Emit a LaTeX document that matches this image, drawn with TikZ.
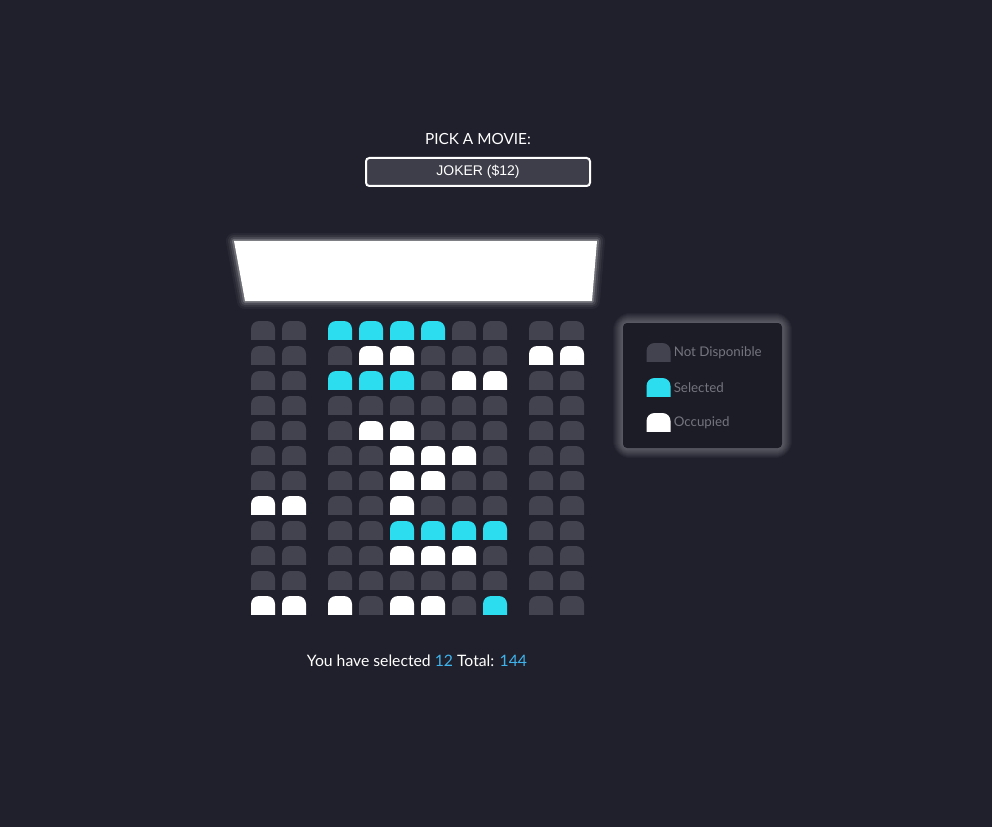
\documentclass[tikz,border=0pt]{standalone}
\usepackage{fontspec}
\setmainfont{Lato}
\newfontfamily\arialf{Liberation Sans}
\definecolor{bg}{HTML}{20202C}
\definecolor{seatN}{HTML}{434350}
\definecolor{seatS}{HTML}{2BDDEE}
\definecolor{seatO}{HTML}{FFFFFF}
\definecolor{selbg}{HTML}{3E3E4B}
\definecolor{legbg}{HTML}{1C1C26}
\definecolor{legtxt}{HTML}{75757F}
\definecolor{numblue}{HTML}{3FB4EC}
\newcommand{\myseat}[3]{%
  \begin{scope}
    \clip (#1-12,#2-9) rectangle (#1+12,#2+9);
    \fill[#3,rounded corners=6pt] (#1-12,#2-9) rectangle (#1+12,#2+22);
  \end{scope}}
\begin{document}
\begin{tikzpicture}[x=0.75pt,y=-0.75pt]
\fill[bg] (0,0) rectangle (992,827);
\useasboundingbox (0,0) rectangle (992,827);
% title
\node[text=white,font=\fontsize{11.5}{13}\selectfont] (title) at (478,139) {PICK A MOVIE:};
\node[draw=white,line width=1.5pt,fill=selbg,rounded corners=2.5pt,minimum width=168pt,minimum height=21pt,text=white,font=\arialf\fontsize{10.5}{11}\selectfont] (sel) at (478,172) {JOKER (\$12)};
% screen glow
\foreach \w/\o in {12/0.04,9/0.06,6/0.1,3/0.2}{
  \draw[white,opacity=\o,line width=\w pt,line join=round] (234,241)--(597,241)--(592,301)--(245,301)--cycle;}
\fill[white] (234,241)--(597,241)--(592,301)--(245,301)--cycle;
% seats
\def\xs{{263,294,340,371,402,433,464,495,541,572}}
\def\drawrow#1#2{\def\yy{#1}\def\cc{0}\drawletters#2\relax}
\def\drawletters#1{\ifx#1\relax\else
  \pgfmathparse{\xs[\cc]}\let\xx\pgfmathresult
  \myseat{\xx}{\yy}{seat#1}%
  \pgfmathtruncatemacro{\cc}{\cc+1}%
  \expandafter\drawletters\fi}
\drawrow{330}{NNSSSSNNNN}
\drawrow{355}{NNNOONNNOO}
\drawrow{380}{NNSSSNOONN}
\drawrow{405}{NNNNNNNNNN}
\drawrow{430}{NNNOONNNNN}
\drawrow{455}{NNNNOOONNN}
\drawrow{480}{NNNNOONNNN}
\drawrow{505}{OONNONNNNN}
\drawrow{530}{NNNNSSSSNN}
\drawrow{555}{NNNNOOONNN}
\drawrow{580}{NNNNNNNNNN}
\drawrow{605}{OOONOONSNN}
% legend
\foreach \d in {1,2,...,10}{
  \fill[white,opacity=0.03,rounded corners=3pt+\d pt] (623-\d,323-\d) rectangle (782+\d,448+\d);}
\fill[legbg,rounded corners=3pt] (623,323) rectangle (782,448);
\myseat{658.5}{352}{seatN}
\myseat{658.5}{387}{seatS}
\myseat{658.5}{422}{seatO}
\tikzset{legt/.style={anchor=west,text=legtxt,inner sep=0pt,font=\fontsize{10}{11}\selectfont}}
\node[legt] (l1) at (673.5,352.5) {Not Disponible};
\node[legt] (l2) at (673.5,387.5) {Selected};
\node[legt] (l3) at (673.5,422.5) {Occupied};
% bottom text
\node[text=white,font=\fontsize{11.8}{13}\selectfont] (info) at (417,661) {You have selected \textcolor{numblue}{12} Total: \textcolor{numblue}{144}};
\end{tikzpicture}
\end{document}
